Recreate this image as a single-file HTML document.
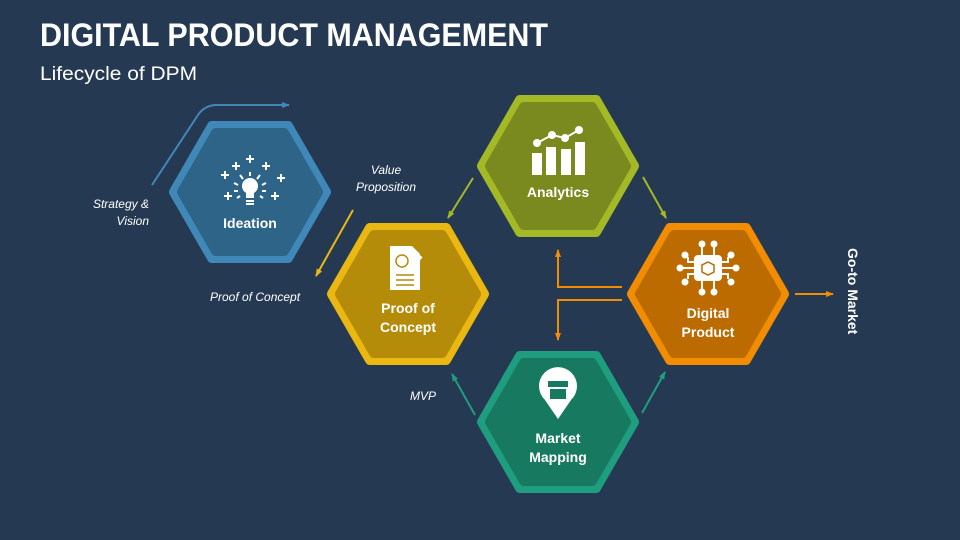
<!DOCTYPE html>
<html><head><meta charset="utf-8"><style>
html,body{margin:0;padding:0;background:#253a52;}
svg{display:block;font-family:"Liberation Sans",sans-serif;}
</style></head><body>
<svg width="960" height="540" viewBox="0 0 960 540" xmlns="http://www.w3.org/2000/svg">
<defs>
<marker id="ab" markerWidth="8" markerHeight="8" refX="7" refY="4" orient="auto" markerUnits="userSpaceOnUse"><path d="M0,1 L8,4 L0,7 Z" fill="#3f88b8"/></marker>
<marker id="ay" markerWidth="8" markerHeight="8" refX="7" refY="4" orient="auto" markerUnits="userSpaceOnUse"><path d="M0,1 L8,4 L0,7 Z" fill="#eab811"/></marker>
<marker id="ag" markerWidth="8" markerHeight="8" refX="7" refY="4" orient="auto" markerUnits="userSpaceOnUse"><path d="M0,1 L8,4 L0,7 Z" fill="#a4b926"/></marker>
<marker id="ao" markerWidth="8" markerHeight="8" refX="7" refY="4" orient="auto" markerUnits="userSpaceOnUse"><path d="M0,1 L8,4 L0,7 Z" fill="#f28c00"/></marker>
<marker id="at" markerWidth="8" markerHeight="8" refX="7" refY="4" orient="auto" markerUnits="userSpaceOnUse"><path d="M0,1 L8,4 L0,7 Z" fill="#1e9e7e"/></marker>
</defs>
<rect width="960" height="540" fill="#253a52"/>
<text x="40" y="46" font-size="32" font-weight="bold" fill="#fff" textLength="508" lengthAdjust="spacingAndGlyphs">DIGITAL PRODUCT MANAGEMENT</text>
<text x="40" y="80" font-size="19" fill="#fff" textLength="157" lengthAdjust="spacingAndGlyphs">Lifecycle of DPM</text>

<path d="M152,185 L198,115 Q204,106 215,105 L289,105" fill="none" stroke="#3f88b8" stroke-width="2" marker-end="url(#ab)"/>
<line x1="353" y1="210" x2="316" y2="276" stroke="#eab811" stroke-width="2" marker-end="url(#ay)"/>
<line x1="473" y1="178" x2="448" y2="218" stroke="#a4b926" stroke-width="2" marker-end="url(#ag)"/>
<line x1="643" y1="177" x2="666" y2="218" stroke="#a4b926" stroke-width="2" marker-end="url(#ag)"/>
<path d="M622,287 L558,287 L558,250" fill="none" stroke="#f28c00" stroke-width="2" marker-end="url(#ao)"/>
<path d="M622,300 L558,300 L558,340" fill="none" stroke="#f28c00" stroke-width="2" marker-end="url(#ao)"/>
<line x1="795" y1="294" x2="833" y2="294" stroke="#f28c00" stroke-width="2" marker-end="url(#ao)"/>
<line x1="475" y1="415" x2="452" y2="374" stroke="#1e9e7e" stroke-width="2" marker-end="url(#at)"/>
<line x1="642" y1="413" x2="665" y2="372" stroke="#1e9e7e" stroke-width="2" marker-end="url(#at)"/>

<g stroke-linejoin="round">
<polygon points="174,192 212,126 288,126 326,192 288,258 212,258" fill="#3f88b8" stroke="#3f88b8" stroke-width="10"/>
<polygon points="182,192 216,133 284,133 318,192 284,251 216,251" fill="#2e6488" stroke="#2e6488" stroke-width="10"/>
<polygon points="482,166 520,100 596,100 634,166 596,232 520,232" fill="#a4b926" stroke="#a4b926" stroke-width="10"/>
<polygon points="490,166 524,107 592,107 626,166 592,225 524,225" fill="#7b8a1e" stroke="#7b8a1e" stroke-width="10"/>
<polygon points="332,294 370,228 446,228 484,294 446,360 370,360" fill="#eab811" stroke="#eab811" stroke-width="10"/>
<polygon points="340,294 374,235 442,235 476,294 442,353 374,353" fill="#b48c0a" stroke="#b48c0a" stroke-width="10"/>
<polygon points="632,294 670,228 746,228 784,294 746,360 670,360" fill="#f28c00" stroke="#f28c00" stroke-width="10"/>
<polygon points="640,294 674,235 742,235 776,294 742,353 674,353" fill="#bb6b00" stroke="#bb6b00" stroke-width="10"/>
<polygon points="482,422 520,356 596,356 634,422 596,488 520,488" fill="#1e9e7e" stroke="#1e9e7e" stroke-width="10"/>
<polygon points="490,422 524,363 592,363 626,422 592,481 524,481" fill="#177a60" stroke="#177a60" stroke-width="10"/>
</g>

<g fill="#fff" stroke="#fff" stroke-width="2">
<circle cx="250" cy="186" r="8" stroke="none"/>
<rect x="246" y="192" width="8" height="6" stroke="none"/>
<line x1="246" y1="201" x2="254" y2="201"/><line x1="246" y1="204" x2="254" y2="204"/>
<line x1="250" y1="172" x2="250" y2="176"/><line x1="240" y1="175" x2="243" y2="179"/><line x1="260" y1="175" x2="257" y2="179"/>
<line x1="234" y1="183" x2="238" y2="185"/><line x1="266" y1="183" x2="262" y2="185"/>
<line x1="234" y1="191" x2="238" y2="191"/><line x1="266" y1="191" x2="262" y2="191"/>
<line x1="237" y1="198" x2="240" y2="196"/><line x1="263" y1="198" x2="260" y2="196"/>
<path d="M250,155v8M246,159h8 M236,162v8M232,166h8 M266,162v8M262,166h8 M225,171v8M221,175h8 M281,174v8M277,178h8 M228,192v8M224,196h8 M275,192v8M271,196h8"/>
</g>
<g fill="#fff" stroke="#fff">
<rect x="532" y="153" width="10" height="22" stroke="none"/>
<rect x="546" y="147" width="10" height="28" stroke="none"/>
<rect x="561" y="149" width="10" height="26" stroke="none"/>
<rect x="575" y="142" width="10" height="33" stroke="none"/>
<polyline points="537,143 552,135 565,138 579,130" fill="none" stroke-width="2"/>
<circle cx="537" cy="143" r="3.5"/><circle cx="552" cy="135" r="3.5"/><circle cx="565" cy="138" r="3.5"/><circle cx="579" cy="130" r="3.5"/>
</g>
<g>
<path d="M390,246 h22 l8,8 v36 h-30 z" fill="#fff"/>
<circle cx="402" cy="261" r="6" fill="none" stroke="#b48c0a" stroke-width="1.5"/>
<line x1="396" y1="275" x2="414" y2="275" stroke="#b48c0a" stroke-width="1.5"/>
<line x1="396" y1="280" x2="414" y2="280" stroke="#b48c0a" stroke-width="1.5"/>
<line x1="396" y1="285" x2="414" y2="285" stroke="#b48c0a" stroke-width="1.5"/>
<line x1="408" y1="272" x2="421" y2="256" stroke="#fff" stroke-width="4"/>
</g>
<g fill="#fff" stroke="#fff" stroke-width="2">
<rect x="694" y="255" width="28" height="26" rx="4" stroke="none"/>
<path d="M708,262 l6,3 v7 l-6,3 l-6,-3 v-7 z" fill="none" stroke="#bb6b00" stroke-width="1.5"/>
<path d="M702,255v-8 M714,255v-8 M702,281v8 M714,281v8 M694,268h-12 M722,268h12 M694,262h-6v-5 M722,262h6v-5 M694,274h-6v5 M722,274h6v5" fill="none"/>
<circle cx="702" cy="244" r="2.5"/><circle cx="714" cy="244" r="2.5"/><circle cx="702" cy="292" r="2.5"/><circle cx="714" cy="292" r="2.5"/>
<circle cx="680" cy="268" r="2.5"/><circle cx="736" cy="268" r="2.5"/>
<circle cx="685" cy="255" r="2.5"/><circle cx="731" cy="255" r="2.5"/><circle cx="685" cy="282" r="2.5"/><circle cx="731" cy="282" r="2.5"/>
</g>
<g>
<path d="M558,419 L545,400 A19,19 0 1 1 571,400 Z" fill="#fff"/>
<rect x="548" y="381" width="20" height="6" fill="#177a60"/>
<rect x="550" y="389" width="16" height="10" fill="#177a60"/>
</g>

<g fill="#fff" font-weight="bold" font-size="14" text-anchor="middle">
<text x="250" y="228">Ideation</text>
<text x="558" y="197">Analytics</text>
<text x="408" y="313">Proof of</text>
<text x="408" y="332">Concept</text>
<text x="708" y="318">Digital</text>
<text x="708" y="337">Product</text>
<text x="558" y="443">Market</text>
<text x="558" y="462">Mapping</text>
</g>

<g fill="#fff" font-style="italic" font-size="12">
<text x="149" y="208" text-anchor="end">Strategy &amp;</text>
<text x="149" y="225" text-anchor="end">Vision</text>
<text x="386" y="174" text-anchor="middle">Value</text>
<text x="386" y="191" text-anchor="middle">Proposition</text>
<text x="210" y="301">Proof of Concept</text>
<text x="410" y="400">MVP</text>
</g>
<text transform="translate(848,248) rotate(90)" fill="#fff" font-weight="bold" font-size="14">Go-to Market</text>
</svg>
</body></html>
